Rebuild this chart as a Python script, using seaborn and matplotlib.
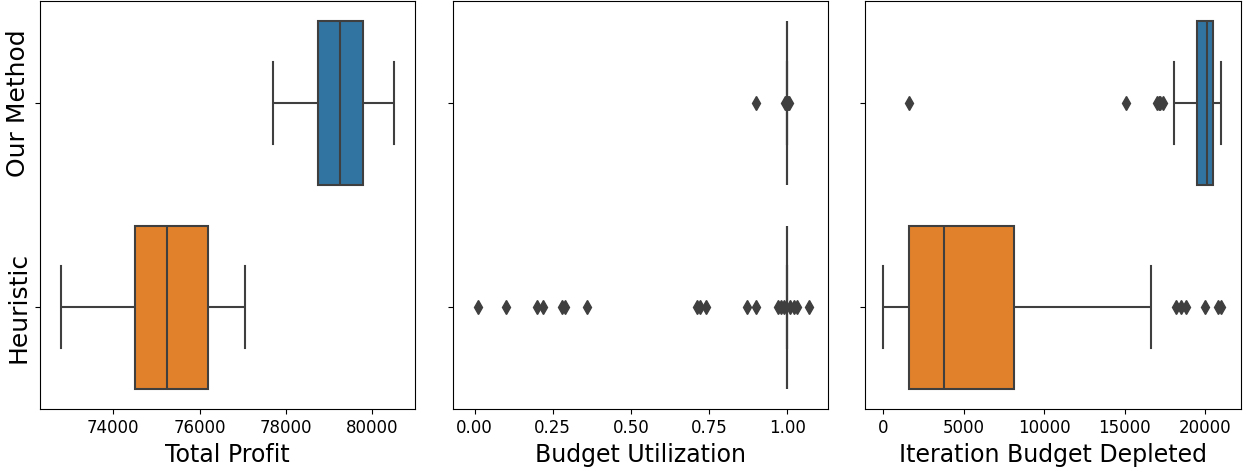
import matplotlib
matplotlib.use("Agg")
import matplotlib.pyplot as plt
import seaborn as sns
import pandas as pd

methods = ["Our Method", "Heuristic"]
N = 20
# Total Profit samples
profit_our = [77700] + [78750]*N + [79250]*N + [79800]*N + [80500]
profit_heu = [72800] + [74500]*N + [75250]*N + [76200]*N + [77050]
# Budget Utilization samples
util_our = [0.90, 0.993, 0.996, 0.998] + [1.0]*(3*N) + [1.002, 1.004]
util_heu = [0.01, 0.10, 0.20, 0.22, 0.28, 0.29, 0.36, 0.71, 0.72, 0.74, 0.87, 0.90,
            0.97, 0.98, 0.99] + [1.0]*(3*N) + [1.01, 1.02, 1.03, 1.07]
# Iteration Budget Depleted samples
iter_our = [1600, 15100, 17000, 17100, 17200, 17400, 18050] + [19500]*N + [20100]*N + [20500]*N + [21000]
iter_heu = [0] + [1600]*N + [3800]*N + [8100]*N + [16600, 18200, 18500, 18800, 20000, 20800, 21000]

def frame(a, b):
    return pd.DataFrame({"v": list(a) + list(b), "m": [methods[0]]*len(a) + [methods[1]]*len(b)})

panels = [(frame(profit_our, profit_heu), "Total Profit", [74000, 76000, 78000, 80000]),
          (frame(util_our, util_heu), "Budget Utilization", [0.0, 0.25, 0.5, 0.75, 1.0]),
          (frame(iter_our, iter_heu), "Iteration Budget Depleted", [0, 5000, 10000, 15000, 20000])]

fig, axes = plt.subplots(1, 3, figsize=(12.47, 4.76), dpi=100, sharey=True)
for ax, (df, label, ticks) in zip(axes, panels):
    sns.boxplot(data=df, x="v", y="m", hue="m", order=methods, hue_order=methods,
                palette=["#1f77b4", "#ff7f0e"], saturation=0.75, legend=False, ax=ax,
                linecolor="#3f3f3f", linewidth=1.5, width=0.8,
                flierprops=dict(marker="d", markerfacecolor="#3f3f3f", markeredgecolor="#3f3f3f", markersize=7))
    ax.set_xlabel(label, fontsize=17)
    ax.set_ylabel("")
    ax.set_xticks(ticks)
    ax.tick_params(labelsize=12)
axes[1].set_xticklabels(["0.00", "0.25", "0.50", "0.75", "1.00"])
axes[0].set_yticks([0, 1])
axes[0].set_yticklabels(methods, rotation=90, va="center", fontsize=18)
axes[0].set_xlim(72300, 81000)
axes[1].set_xlim(-0.07, 1.13)
axes[2].set_xlim(-1100, 22200)
fig.subplots_adjust(left=0.032, right=0.995, top=0.998, bottom=0.14, wspace=0.1)
fig.savefig("out.png")
